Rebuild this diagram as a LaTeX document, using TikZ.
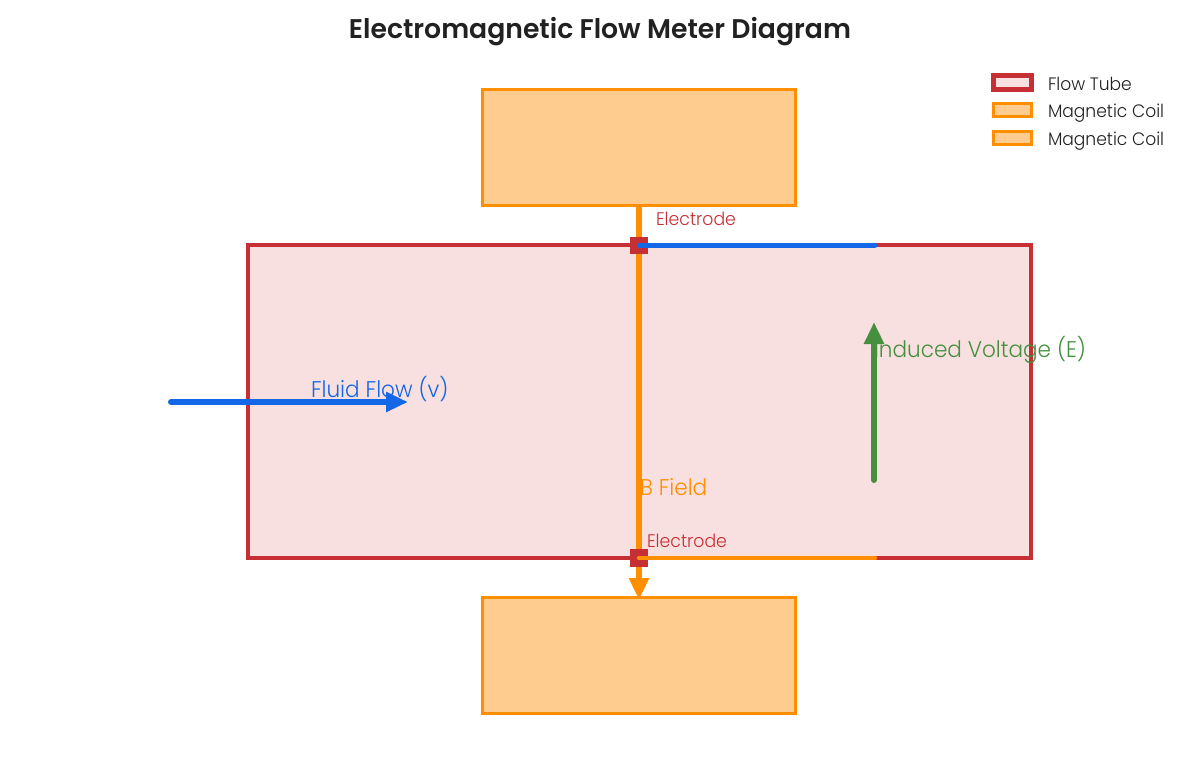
\documentclass[tikz,border=0pt]{standalone}
\usepackage{fontspec}
\setmainfont{Poppins Light}[FakeStretch=0.95,BoldFont={Poppins SemiBold},BoldFeatures={FakeStretch=0.988}]
\usetikzlibrary{arrows.meta}
\definecolor{tubered}{HTML}{C62F33}
\definecolor{tubefill}{HTML}{F9E0E0}
\definecolor{coilor}{HTML}{FF8F00}
\definecolor{coilfill}{HTML}{FFCC8F}
\definecolor{flowblue}{HTML}{1467E6}
\definecolor{voltgreen}{HTML}{458F3E}
\definecolor{inkdark}{HTML}{212121}
\tikzset{
  x=1pt,y=-1pt,
  every node/.style={inner sep=0pt,outer sep=0pt},
  tubebox/.style={draw=tubered,fill=tubefill,line width=4.5pt,minimum width=783pt,minimum height=313pt},
  coilbox/.style={draw=coilor,fill=coilfill,line width=2.7pt,minimum width=313pt,minimum height=115.5pt},
  electrodebox/.style={fill=tubered,minimum width=17.5pt,minimum height=17.5pt},
  legtube/.style={draw=tubered,fill=tubefill,line width=5pt,minimum width=38.5pt,minimum height=14pt},
  legcoil/.style={draw=coilor,fill=coilfill,line width=2.7pt,minimum width=38pt,minimum height=13.5pt},
  legtext/.style={text=inkdark,anchor=base west,font=\fontsize{18}{21}\selectfont},
  lab/.style={font=\fontsize{22.7}{27}\selectfont,anchor=base west},
  elab/.style={text=tubered,font=\fontsize{18.2}{20}\selectfont,anchor=base west},
  wire/.style={line width=4.5pt,line cap=round},
  thick arrow/.style={line width=6pt,line cap=round,-{Triangle[length=22pt,width=19pt]}},
}
\begin{document}
\begin{tikzpicture}
\useasboundingbox (0,0) rectangle (1200,763);
\fill[white] (0,0) rectangle (1200,763);
\node[font=\bfseries\fontsize{27}{32}\selectfont,text=inkdark] (title) at (600,32) {Electromagnetic Flow Meter Diagram};
% bodies
\node[tubebox] (tube) at (639.5,401.5) {};
\coordinate (tiptop) at (639,208);
\coordinate (fieldend) at (639,600);
\draw[coilor,thick arrow] (tiptop) -- (fieldend);
\node[coilbox] (coiltop) at (639,147.5) {};
\node[coilbox] (coilbot) at (639,655.5) {};
% field
\node[electrodebox] (etop) at (639,245.5) {};
\node[electrodebox] (ebot) at (639,558) {};
\coordinate (wirea) at (875,245.5);
\coordinate (wireb) at (875,558);
\coordinate (flowa) at (171,402);
\coordinate (flowb) at (408,402);
\coordinate (volta) at (874,480);
\coordinate (voltb) at (874,322);
\draw[wire,flowblue] (etop.center) -- (wirea);
\draw[wire,coilor] (ebot.center) -- (wireb);
\draw[flowblue,thick arrow] (flowa) -- (flowb);
\draw[voltgreen,thick arrow] (volta) -- (voltb);
% labels
\node[lab,text=flowblue] (lflow) at (311,397) {Fluid Flow (v)};
\node[lab,text=coilor] (lb) at (640,495) {B Field};
\node[lab,text=voltgreen] (lv) at (874,357) {Induced Voltage (E)};
\node[elab] (le1) at (656,225) {Electrode};
\node[elab] (le2) at (647,547) {Electrode};
% legend
\node[legtube] (k1) at (1012.5,82.5) {};
\node[legcoil] (k2) at (1012.5,110) {};
\node[legcoil] (k3) at (1012.5,138) {};
\node[legtext] (t1) at (1048,90) {Flow Tube};
\node[legtext] (t2) at (1048,117) {Magnetic Coil};
\node[legtext] (t3) at (1048,145) {Magnetic Coil};
\end{tikzpicture}
\end{document}
